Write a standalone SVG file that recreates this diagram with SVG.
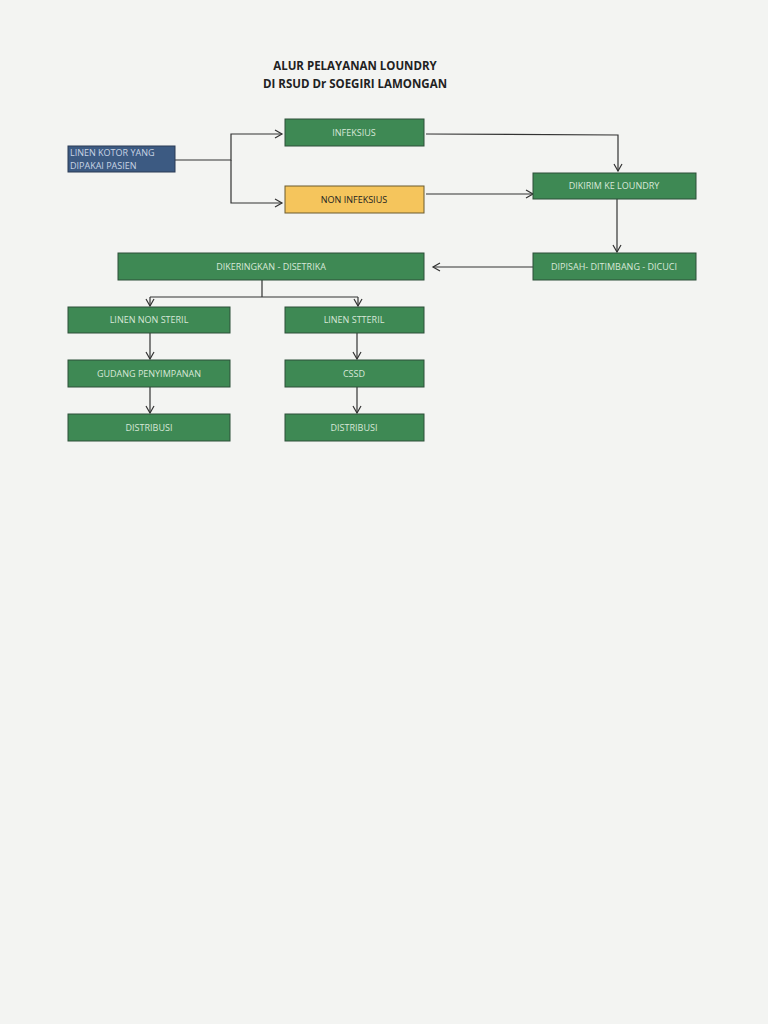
<svg xmlns="http://www.w3.org/2000/svg" width="768" height="1024" viewBox="0 0 768 1024">
<style>
.g{fill:#3e8954;stroke:#2d4f39;stroke-width:1}
.t{font-family:"Open Sans","Liberation Sans",sans-serif;font-size:9px;fill:#d8e8d8;text-anchor:middle}
.c{fill:none;stroke:#333;stroke-width:1.2}
.h{font-family:"Open Sans","Liberation Sans",sans-serif;font-size:11.5px;font-weight:bold;fill:#222;text-anchor:middle}
</style>
<defs><marker id="a" markerWidth="10" markerHeight="10" refX="8" refY="5" orient="auto" markerUnits="userSpaceOnUse"><path d="M1,1 L8,5 L1,9" fill="none" stroke="#333" stroke-width="1.2"/></marker></defs>
<rect width="768" height="1024" fill="#f3f4f2"/>
<text class="h" x="355" y="70">ALUR PELAYANAN LOUNDRY</text>
<text class="h" x="355" y="88">DI RSUD Dr SOEGIRI  LAMONGAN</text>
<g id="connectors">
<path class="c" d="M175,160 H231 V134 H282" marker-end="url(#a)"/>
<path class="c" d="M231,160 V203 H282" marker-end="url(#a)"/>
<path class="c" d="M426,134 L618,135 V171" marker-end="url(#a)"/>
<path class="c" d="M426,194 H533" marker-end="url(#a)"/>
<path class="c" d="M617,199 V252" marker-end="url(#a)"/>
<path class="c" d="M533,267 H433" marker-end="url(#a)"/>
<path class="c" d="M262,280 V297 M150,297 H358"/>
<path class="c" d="M150,297 V306" marker-end="url(#a)"/>
<path class="c" d="M358,297 V306" marker-end="url(#a)"/>
<path class="c" d="M150,333 V359" marker-end="url(#a)"/>
<path class="c" d="M357,333 V359" marker-end="url(#a)"/>
<path class="c" d="M150,387 V413" marker-end="url(#a)"/>
<path class="c" d="M357,387 V413" marker-end="url(#a)"/>
</g>
<g id="linen-kotor"><rect x="68" y="146" width="107" height="26" fill="#3c5a82" stroke="#2a3a55"/><text class="t" x="70" y="156" style="text-anchor:start;fill:#c8d4e4">LINEN KOTOR YANG</text><text class="t" x="70" y="169" style="text-anchor:start;fill:#c8d4e4">DIPAKAI PASIEN</text></g>
<g id="infeksius"><rect class="g" x="285" y="119" width="139" height="27"/><text class="t" x="354" y="136">INFEKSIUS</text></g>
<g id="non-infeksius"><rect x="285" y="186" width="139" height="27" fill="#f5c55c" stroke="#6b5a2e"/><text class="t" x="354" y="203" style="fill:#222">NON INFEKSIUS</text></g>
<g id="dikirim"><rect class="g" x="533" y="173" width="163" height="26"/><text class="t" x="614" y="189">DIKIRIM KE LOUNDRY</text></g>
<g id="dipisah"><rect class="g" x="533" y="253" width="163" height="27"/><text class="t" x="614" y="270">DIPISAH- DITIMBANG - DICUCI</text></g>
<g id="dikeringkan"><rect class="g" x="118" y="253" width="306" height="27"/><text class="t" x="271" y="270">DIKERINGKAN - DISETRIKA</text></g>
<g id="linen-non-steril"><rect class="g" x="68" y="307" width="162" height="26"/><text class="t" x="149" y="323">LINEN NON STERIL</text></g>
<g id="linen-steril"><rect class="g" x="285" y="307" width="139" height="26"/><text class="t" x="354" y="323">LINEN STTERIL</text></g>
<g id="gudang"><rect class="g" x="68" y="360" width="162" height="27"/><text class="t" x="149" y="377">GUDANG PENYIMPANAN</text></g>
<g id="cssd"><rect class="g" x="285" y="360" width="139" height="27"/><text class="t" x="354" y="377">CSSD</text></g>
<g id="distribusi1"><rect class="g" x="68" y="414" width="162" height="27"/><text class="t" x="149" y="431">DISTRIBUSI</text></g>
<g id="distribusi2"><rect class="g" x="285" y="414" width="139" height="27"/><text class="t" x="354" y="431">DISTRIBUSI</text></g>
</svg>
